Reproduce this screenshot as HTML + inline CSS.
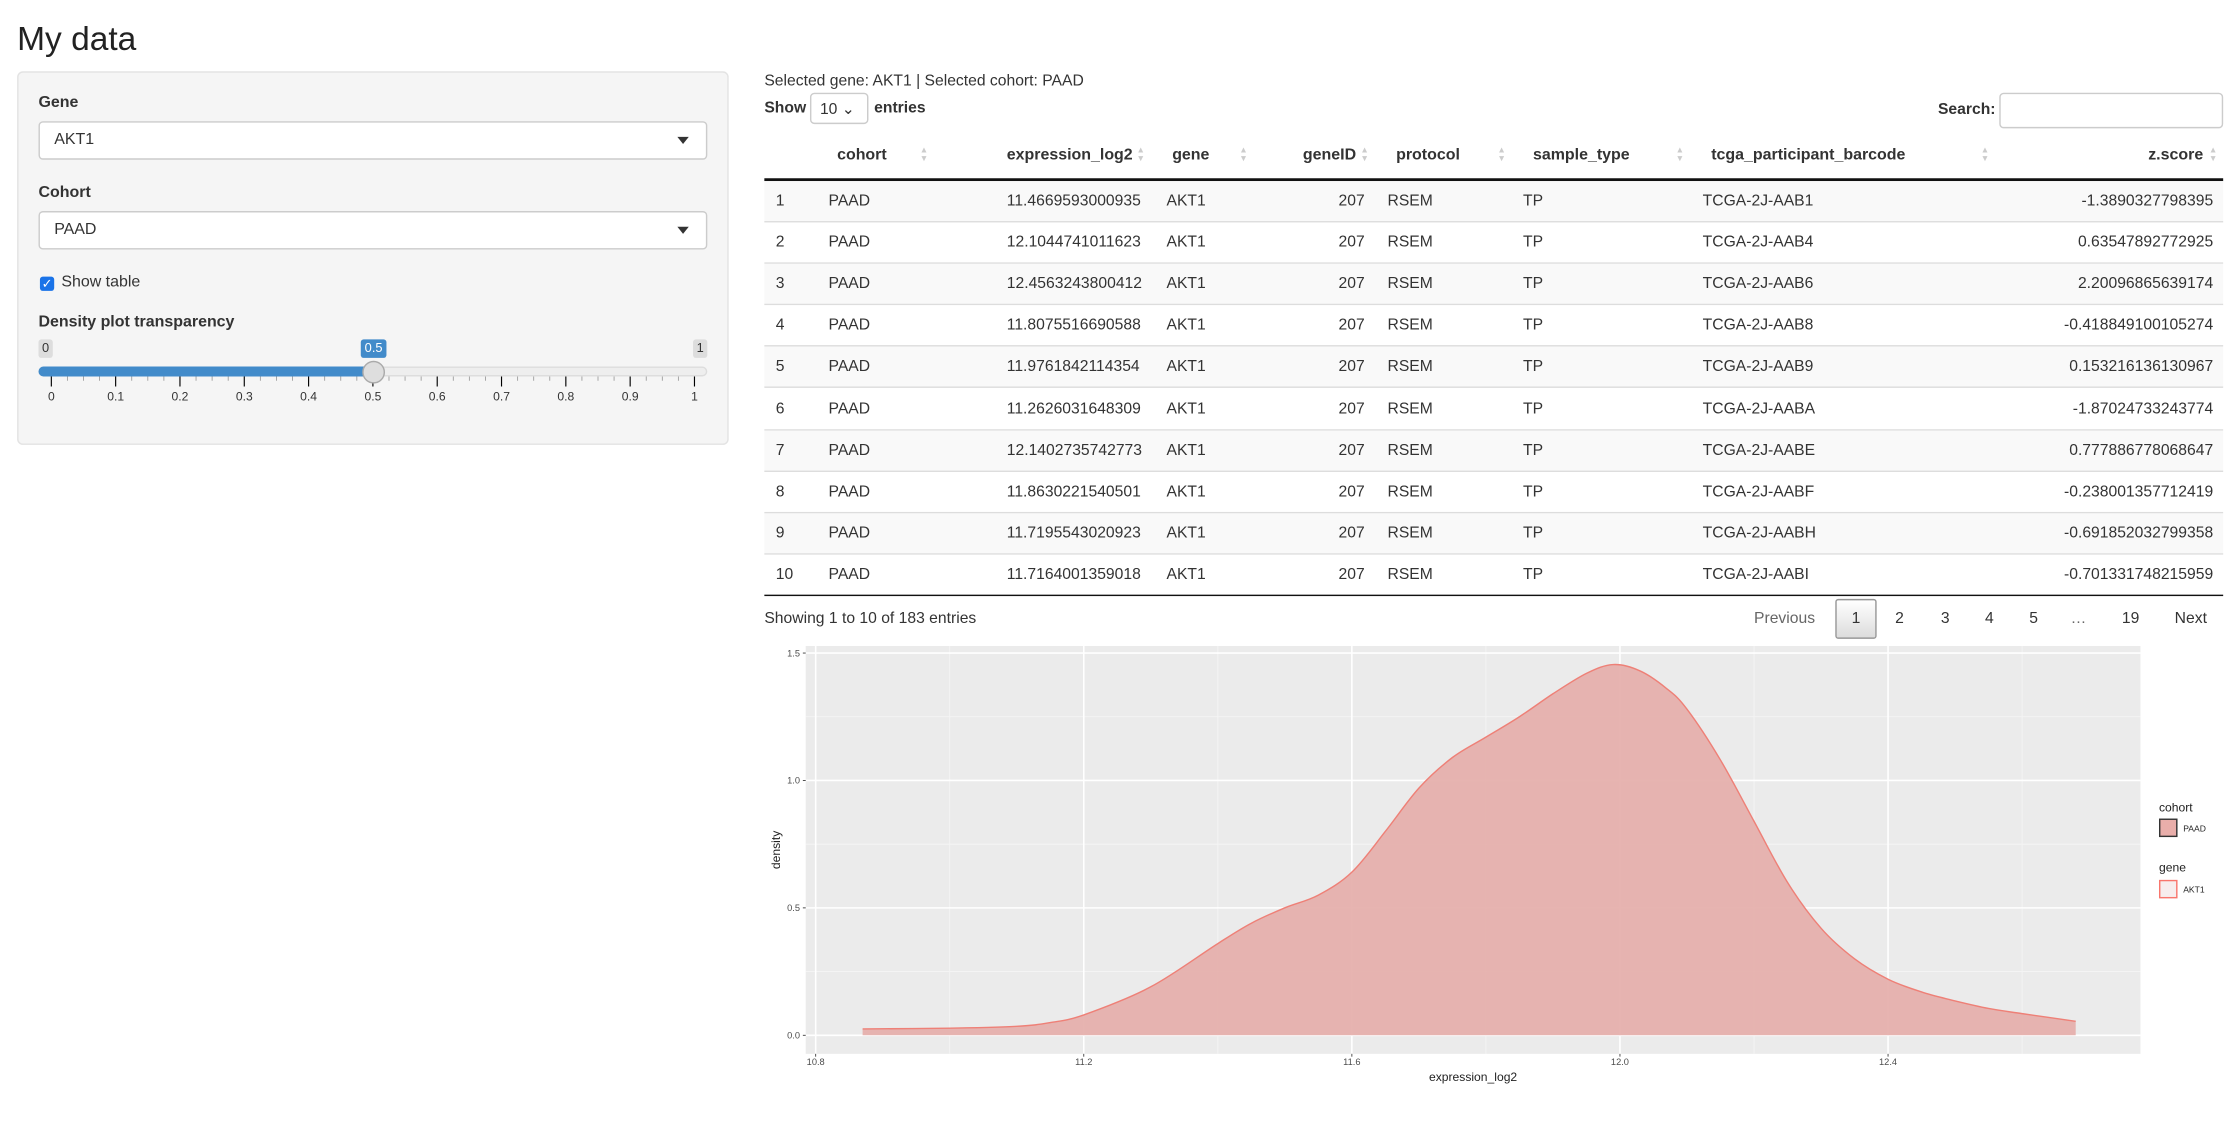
<!DOCTYPE html>
<html><head><meta charset="utf-8">
<style>
html,body{margin:0;padding:0;background:#fff;overflow:hidden;}
body{width:2236px;height:1144px;font-family:"Liberation Sans",sans-serif;color:#333;}
#wrap{position:absolute;left:0;top:0;width:1568px;height:803px;transform:scale(1.42602);transform-origin:0 0;}
.a{position:absolute;white-space:nowrap;}
.lbl{font-weight:bold;font-size:11.2px;}
.sel{position:absolute;background:#fff;border:1px solid #ccc;border-radius:3px;box-sizing:border-box;}
.caret{position:absolute;width:0;height:0;border-left:4px solid transparent;border-right:4px solid transparent;border-top:5px solid #333;}
.cell{position:absolute;font-size:11px;line-height:14px;}
.th{position:absolute;font-size:11.2px;font-weight:bold;}
.sort{position:absolute;font-size:6px;color:#ccc;line-height:5px;}
.pg{position:absolute;font-size:11px;white-space:nowrap;}
</style></head>
<body>
<div id="wrap">
<div class="a" style="left:12px;top:14px;font-size:23.5px;color:#222;">My data</div>

<div style="position:absolute;left:12px;top:50px;width:499px;height:262px;background:#f5f5f5;border:1px solid #e3e3e3;border-radius:4px;box-sizing:border-box;"></div>
<div class="a lbl" style="left:27px;top:66px;">Gene</div>
<div class="sel" style="left:27px;top:85px;width:469px;height:27px;">
 <span class="a" style="left:10px;top:6px;font-size:11.2px;">AKT1</span><div class="caret" style="left:447px;top:10px;"></div></div>
<div class="a lbl" style="left:27px;top:129px;">Cohort</div>
<div class="sel" style="left:27px;top:148px;width:469px;height:27px;">
 <span class="a" style="left:10px;top:6px;font-size:11.2px;">PAAD</span><div class="caret" style="left:447px;top:10px;"></div></div>
<div style="position:absolute;left:28px;top:194px;width:10px;height:10px;background:#1a73e8;border-radius:2px;color:#fff;font-size:9px;line-height:10px;text-align:center;">✓</div>
<div class="a" style="left:43px;top:192px;font-size:11.2px;">Show table</div>
<div class="a lbl" style="left:27px;top:220px;">Density plot transparency</div>
<div class="a" style="left:27px;top:238px;width:10px;height:13px;background:#ddd;border-radius:2px;font-size:9px;text-align:center;line-height:13px;color:#333;">0</div>
<div class="a" style="left:253px;top:238px;width:18px;height:13px;background:#428bca;border-radius:2px;font-size:9px;text-align:center;line-height:13px;color:#fff;">0.5</div>
<div class="a" style="left:486px;top:238px;width:10px;height:13px;background:#ddd;border-radius:2px;font-size:9px;text-align:center;line-height:13px;color:#333;">1</div>
<div style="position:absolute;left:27px;top:257px;width:469px;height:7px;background:#eee;border:1px solid #ddd;border-radius:4px;box-sizing:border-box;"></div>
<div style="position:absolute;left:27px;top:257px;width:235px;height:7px;background:#428bca;border-radius:4px 0 0 4px;"></div>
<svg class="a" style="left:0;top:262px;" width="520" height="30" id="sticks"></svg>
<div style="position:absolute;left:254px;top:253px;width:16px;height:16px;border-radius:50%;background:#dedede;border:1px solid #aaa;box-sizing:border-box;"></div>

<div class="a" style="left:536px;top:51px;font-size:11px;">Selected gene: AKT1 | Selected cohort: PAAD</div>
<div class="a" style="left:536px;top:70px;font-size:11px;font-weight:bold;">Show</div>
<div class="sel" style="left:568px;top:65px;width:41px;height:22px;font-size:11px;"><span class="a" style="left:6px;top:4px;">10 ⌄</span></div>
<div class="a" style="left:613px;top:70px;font-size:11px;font-weight:bold;">entries</div>
<div class="a" style="left:1359px;top:71px;font-size:11px;font-weight:bold;">Search:</div>
<div class="sel" style="left:1402px;top:65px;width:157px;height:25px;"></div>

<div id="table"></div>

<div class="a" style="left:536px;top:428px;font-size:11px;">Showing 1 to 10 of 183 entries</div>
<div class="pg" style="left:1230px;top:428px;color:#666;">Previous</div>
<div style="position:absolute;left:1287px;top:420px;width:29px;height:28px;border:1px solid #979797;border-radius:2px;background:linear-gradient(#fff,#dcdcdc);box-sizing:border-box;font-size:11px;text-align:center;line-height:26px;">1</div>
<div class="pg" style="left:1329px;top:428px;">2</div>
<div class="pg" style="left:1361px;top:428px;">3</div>
<div class="pg" style="left:1392px;top:428px;">4</div>
<div class="pg" style="left:1423px;top:428px;">5</div>
<div class="pg" style="left:1452px;top:428px;color:#666;">…</div>
<div class="pg" style="left:1488px;top:428px;">19</div>
<div class="pg" style="left:1525px;top:428px;">Next</div>

<svg class="a" id="chart" style="left:0;top:0;" width="1568" height="803"></svg>
</div>
<script>
// chart data
const densX = [10.87,11.0,11.1,11.15,11.2,11.3,11.4,11.45,11.5,11.55,11.6,11.65,11.7,11.75,11.8,11.85,11.9,11.95,11.99,12.03,12.07,12.1,12.15,12.2,12.25,12.3,12.35,12.4,12.45,12.5,12.55,12.6,12.68];
const densY = [0.025,0.028,0.035,0.05,0.08,0.19,0.36,0.44,0.5,0.55,0.64,0.8,0.97,1.09,1.17,1.25,1.34,1.42,1.455,1.43,1.36,1.28,1.08,0.84,0.6,0.42,0.3,0.22,0.17,0.135,0.105,0.085,0.055];
const xTicks = [10.8,11.2,11.6,12.0,12.4];
const xTickLabels = ["10.8","11.2","11.6","12.0","12.4"];
const xMinor = [11.0,11.4,11.8,12.2,12.6];
const yTicks = [0,0.5,1.0,1.5];
const yTickLabels = ["0.0","0.5","1.0","1.5"];
const yMinor = [0.25,0.75,1.25];
const sliderTicks = [0,0.1,0.2,0.3,0.4,0.5,0.6,0.7,0.8,0.9,1];
const sliderLabels = ["0","0.1","0.2","0.3","0.4","0.5","0.6","0.7","0.8","0.9","1"];
// table data
const headers = ["cohort","expression_log2","gene","geneID","protocol","sample_type","tcga_participant_barcode","z.score"];
const expr = ["11.4669593000935","12.1044741011623","12.4563243800412","11.8075516690588","11.9761842114354","11.2626031648309","12.1402735742773","11.8630221540501","11.7195543020923","11.7164001359018"];
const barcodes = ["TCGA-2J-AAB1","TCGA-2J-AAB4","TCGA-2J-AAB6","TCGA-2J-AAB8","TCGA-2J-AAB9","TCGA-2J-AABA","TCGA-2J-AABE","TCGA-2J-AABF","TCGA-2J-AABH","TCGA-2J-AABI"];
const zscores = ["-1.3890327798395","0.63547892772925","2.20096865639174","-0.418849100105274","0.153216136130967","-1.87024733243774","0.777886778068647","-0.238001357712419","-0.691852032799358","-0.701331748215959"];

const NS="http://www.w3.org/2000/svg";
function mk(parent,tag,attrs,text){const e=document.createElementNS(NS,tag);for(const k in attrs)e.setAttribute(k,attrs[k]);if(text!==undefined)e.textContent=text;parent.appendChild(e);return e;}

// slider ticks
const st=document.getElementById('sticks');
const sx=v=>36+v*451;
sliderTicks.forEach((v,i)=>{
  const l=mk(st,'line',{x1:sx(v),x2:sx(v),y1:2,y2:9,stroke:'#000','stroke-width':0.8});
  
  
  const t=mk(st,'text',{x:sx(v),y:19,'font-size':8.5,'text-anchor':'middle',fill:'#333','font-family':'Liberation Sans'},sliderLabels[i]);
  
  
  if(i<10){for(let k=1;k<4;k++){const m=mk(st,'line',{x1:sx(v+k*0.025),x2:sx(v+k*0.025),y1:2,y2:5,stroke:'#999','stroke-width':0.6});
    
    }}
});

// table
const tb=document.getElementById('table');
function div(cls,style,text,name){const d=document.createElement('div');d.className=cls;d.style.cssText=style;d.textContent=text;
  
  
  tb.appendChild(d);return d;}
const hdr=[{x:587,a:'l',ic:648},{x:706,a:'l',ic:800},{x:822,a:'l',ic:872},{x:951,a:'r',ic:957},{x:979,a:'l',ic:1053},{x:1075,a:'l',ic:1178},{x:1200,a:'l',ic:1392},{x:1545,a:'r',ic:1552}];
headers.forEach((h,i)=>{
  const c=hdr[i];
  const st=c.a==='l'?`left:${c.x}px;`:`right:${1568-c.x}px;`;
  const d=div('th',st+'top:103px;',h,'column-header-'+h.replace(/[._]/g,'-'));
  
  div('sort',`left:${c.ic-3}px;top:104px;`,'▲','sort-icon');
  div('sort',`left:${c.ic-3}px;top:110px;`,'▼','sort-icon');
});
div('', 'position:absolute;left:536px;top:125px;width:1023px;height:2px;background:#111;','','header-border');
for(let r=0;r<10;r++){
  const y=127+r*29.1;
  const row=div('',`position:absolute;left:536px;top:${y}px;width:1023px;height:29px;background:${r%2===0?'#f9f9f9':'#fff'};border-bottom:1px solid #ddd;box-sizing:border-box;`,'','table-row');
  if(r===9)row.style.borderBottom='1px solid #111';
  const ty=y+7;
  div('cell',`left:544px;top:${ty}px;`,String(r+1),'row-index');
  div('cell',`left:581px;top:${ty}px;`,'PAAD','cell-cohort');
  div('cell',`left:706px;top:${ty}px;`,expr[r],'cell-expression');
  div('cell',`left:818px;top:${ty}px;`,'AKT1','cell-gene');
  div('cell',`right:${1568-957}px;top:${ty}px;`,'207','cell-geneid');
  div('cell',`left:973px;top:${ty}px;`,'RSEM','cell-protocol');
  div('cell',`left:1068px;top:${ty}px;`,'TP','cell-sample-type');
  div('cell',`left:1194px;top:${ty}px;`,barcodes[r],'cell-barcode');
  div('cell',`right:${1568-1552}px;top:${ty}px;`,zscores[r],'cell-zscore');
}

// chart
const svg=document.getElementById('chart');
const X=v=>572+(v-10.8)*470;
const Y=v=>726-v*178.7;
const p=mk(svg,'rect',{x:565,y:453,width:936,height:286,fill:'#ebebeb'});


xMinor.forEach(v=>{const l=mk(svg,'line',{x1:X(v),x2:X(v),y1:453,y2:739,stroke:'#f5f5f5','stroke-width':0.6});
  
  });
yMinor.forEach(v=>{const l=mk(svg,'line',{x1:565,x2:1501,y1:Y(v),y2:Y(v),stroke:'#f5f5f5','stroke-width':0.6});
  
  });
xTicks.forEach((v,i)=>{
  const l=mk(svg,'line',{x1:X(v),x2:X(v),y1:453,y2:739,stroke:'#fff','stroke-width':1.1});
  
  
  mk(svg,'line',{x1:X(v),x2:X(v),y1:739,y2:741,stroke:'#333','stroke-width':0.6});
  const t=mk(svg,'text',{x:X(v),y:747,'font-size':6.5,'text-anchor':'middle',fill:'#4d4d4d','font-family':'Liberation Sans'},xTickLabels[i]);
  
  
});
yTicks.forEach((v,i)=>{
  const l=mk(svg,'line',{x1:565,x2:1501,y1:Y(v),y2:Y(v),stroke:'#fff','stroke-width':1.1});
  
  
  mk(svg,'line',{x1:563,x2:565,y1:Y(v),y2:Y(v),stroke:'#333','stroke-width':0.6});
  const t=mk(svg,'text',{x:561,y:Y(v)+2.3,'font-size':6.5,'text-anchor':'end',fill:'#4d4d4d','font-family':'Liberation Sans'},yTickLabels[i]);
  
  
});
// smooth curve via Catmull-Rom
const pts=densX.map((v,i)=>[X(v),Y(densY[i])]);
function smooth(ps){let s='';for(let i=0;i<ps.length-1;i++){const p0=ps[Math.max(0,i-1)],p1=ps[i],p2=ps[i+1],p3=ps[Math.min(ps.length-1,i+2)];
  const c1=[p1[0]+(p2[0]-p0[0])/6,p1[1]+(p2[1]-p0[1])/6],c2=[p2[0]-(p3[0]-p1[0])/6,p2[1]-(p3[1]-p1[1])/6];
  s+=` C${c1[0].toFixed(1)},${c1[1].toFixed(1)} ${c2[0].toFixed(1)},${c2[1].toFixed(1)} ${p2[0].toFixed(1)},${p2[1].toFixed(1)}`;}return s;}
const curve=smooth(pts);
const d=`M${pts[0][0]},${Y(0)} L${pts[0][0]},${pts[0][1]}`+curve+` L${pts[pts.length-1][0]},${Y(0)} Z`;
const area=mk(svg,'path',{d:d,fill:'#e5aeab','fill-opacity':0.93,stroke:'none'});


const line=mk(svg,'path',{d:`M${pts[0][0]},${pts[0][1]}`+curve,fill:'none',stroke:'#ee8077','stroke-width':1});


const xt=mk(svg,'text',{x:1033,y:758,'font-size':8.5,'text-anchor':'middle',fill:'#222','font-family':'Liberation Sans'},'expression_log2');


const yt=mk(svg,'text',{x:0,y:0,'font-size':8.5,'text-anchor':'middle',fill:'#222','font-family':'Liberation Sans',transform:'translate(547,596) rotate(-90)'},'density');


// legend
const l1=mk(svg,'text',{x:1514,y:569,'font-size':8.5,fill:'#222','font-family':'Liberation Sans'},'cohort');


const s1=mk(svg,'rect',{x:1514.5,y:574.5,width:12,height:12,fill:'#e9aeaa',stroke:'#333','stroke-width':1});


const t1=mk(svg,'text',{x:1531,y:583,'font-size':6,fill:'#222','font-family':'Liberation Sans'},'PAAD');


const l2=mk(svg,'text',{x:1514,y:611,'font-size':8.5,fill:'#222','font-family':'Liberation Sans'},'gene');


const s2=mk(svg,'rect',{x:1514.5,y:617.5,width:12,height:12,fill:'#f7eded',stroke:'#F8766D','stroke-width':1});


const t2=mk(svg,'text',{x:1531,y:626,'font-size':6,fill:'#222','font-family':'Liberation Sans'},'AKT1');


</script>
</body></html>
